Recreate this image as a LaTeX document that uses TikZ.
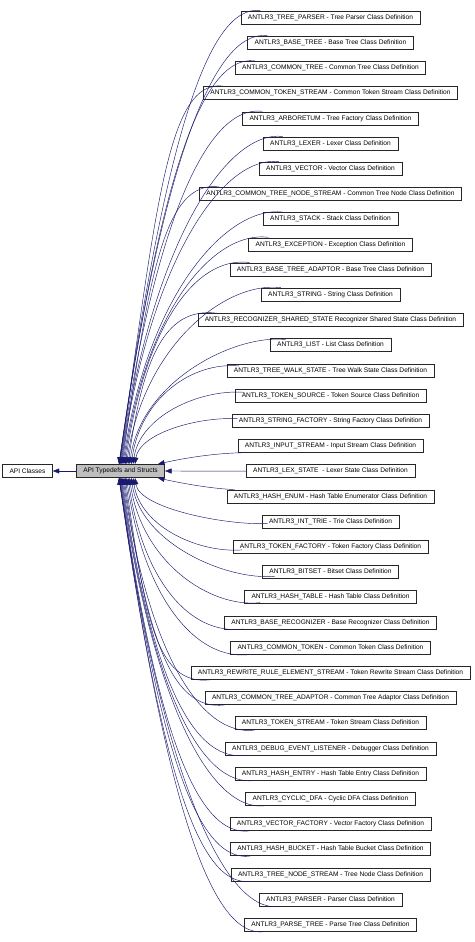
\documentclass[tikz,border=0pt]{standalone}
\usepackage{fontspec}
\setmainfont{Liberation Sans}
\usetikzlibrary{arrows.meta,calc}
\definecolor{navy}{HTML}{191970}
\definecolor{tdgray}{HTML}{BFBFBF}
\tikzset{
  box/.style={draw=black!85, line width=0.55pt, fill=white, inner xsep=7pt, inner ysep=0pt,
    minimum height=13pt, font=\fontsize{6.6}{8}\selectfont},
  edge/.style={draw=navy, line width=0.45pt, arrows={Triangle[length=6.5pt,width=5pt]-}},
  edgeto/.style={draw=navy, line width=0.45pt, arrows={-Triangle[length=6.5pt,width=5pt]}}
}
\begin{document}
\begin{tikzpicture}[x=1pt,y=-1pt]
\fill[white] (0,0) rectangle (474,942);
\useasboundingbox (0,0) rectangle (474,942);
\node[box] (cls) at (27.5,471) {API Classes};
\node[box, fill=tdgray] (td) at (120.5,471) {API Typedefs and Structs};
\foreach \t [count=\k from 0] in {
ANTLR3\_TREE\_PARSER - Tree Parser Class Definition,
ANTLR3\_BASE\_TREE - Base Tree Class Definition,
ANTLR3\_COMMON\_TREE - Common Tree Class Definition,
ANTLR3\_COMMON\_TOKEN\_STREAM - Common Token Stream Class Definition,
ANTLR3\_ARBORETUM - Tree Factory Class Definition,
ANTLR3\_LEXER - Lexer Class Definition,
ANTLR3\_VECTOR - Vector Class Definition,
ANTLR3\_COMMON\_TREE\_NODE\_STREAM - Common Tree Node Class Definition,
ANTLR3\_STACK - Stack Class Definition,
ANTLR3\_EXCEPTION - Exception Class Definition,
ANTLR3\_BASE\_TREE\_ADAPTOR - Base Tree Class Definition,
ANTLR3\_STRING - String Class Definition,
ANTLR3\_RECOGNIZER\_SHARED\_STATE Recognizer Shared State Class Definition,
ANTLR3\_LIST - List Class Definition,
ANTLR3\_TREE\_WALK\_STATE - Tree Walk State Class Definition,
ANTLR3\_TOKEN\_SOURCE - Token Source Class Definition,
ANTLR3\_STRING\_FACTORY - String Factory Class Definition,
ANTLR3\_INPUT\_STREAM - Input Stream Class Definition,
ANTLR3\_LEX\_STATE~ - Lexer State Class Definition,
ANTLR3\_HASH\_ENUM - Hash Table Enumerator Class Definition,
ANTLR3\_INT\_TRIE - Trie Class Definition,
ANTLR3\_TOKEN\_FACTORY - Token Factory Class Definition,
ANTLR3\_BITSET - Bitset Class Definition,
ANTLR3\_HASH\_TABLE - Hash Table Class Definition,
ANTLR3\_BASE\_RECOGNIZER - Base Recognizer Class Definition,
ANTLR3\_COMMON\_TOKEN - Common Token Class Definition,
ANTLR3\_REWRITE\_RULE\_ELEMENT\_STREAM - Token Rewrite Stream Class Definition,
ANTLR3\_COMMON\_TREE\_ADAPTOR - Common Tree Adaptor Class Definition,
ANTLR3\_TOKEN\_STREAM - Token Stream Class Definition,
ANTLR3\_DEBUG\_EVENT\_LISTENER - Debugger Class Definition,
ANTLR3\_HASH\_ENTRY - Hash Table Entry Class Definition,
ANTLR3\_CYCLIC\_DFA - Cyclic DFA Class Definition,
ANTLR3\_VECTOR\_FACTORY - Vector Factory Class Definition,
ANTLR3\_HASH\_BUCKET - Hash Table Bucket Class Definition,
ANTLR3\_TREE\_NODE\_STREAM - Tree Node Class Definition,
ANTLR3\_PARSER - Parser Class Definition,
ANTLR3\_PARSE\_TREE - Parse Tree Class Definition} {
  \node[box] (n\k) at (330.5,{17.5+25.2*\k}) {\t};
}
% edge to API Classes
\draw[edgeto] (td.west) -- (cls.east);
% upper edges
\foreach \i in {0,...,16} {
  \pgfmathsetmacro{\yy}{17.5+25.2*\i}
  \pgfmathsetmacro{\D}{464-\yy}
  \pgfmathsetmacro{\f}{min(1,\D/150)}
  \pgfmathsetmacro{\xe}{119+16*(\i/16)^2}
  \path (n\i.west); \pgfgetlastxy{\Lx}{\Ly}
  \pgfmathsetmacro{\L}{\Lx}
  \draw[edge] (\xe,464) .. controls ({\xe+0.1*\D},{464-0.7*\D}) and ({\L-35},{\yy-14*\f}) .. ({\L+20*\f},{\yy-7*\f});
}
% lower edges
\foreach \i in {20,...,36} {
  \pgfmathsetmacro{\j}{36-\i}
  \pgfmathsetmacro{\yy}{17.5+25.2*\i}
  \pgfmathsetmacro{\D}{\yy-478}
  \pgfmathsetmacro{\f}{min(1,\D/150)}
  \pgfmathsetmacro{\xe}{119+16*(\j/16)^2}
  \path (n\i.west); \pgfgetlastxy{\Lx}{\Ly}
  \pgfmathsetmacro{\L}{\Lx}
  \draw[edge] (\xe,478) .. controls ({\xe+0.1*\D},{478+0.7*\D}) and ({\L-35},{\yy+14*\f}) .. ({\L+20*\f},{\yy+7*\f});
}
% near-centre edges
\coordinate (e17) at ($(n17.south west)+(8,0)$);
\coordinate (e19) at ($(n19.north west)+(8,0)$);
\draw[edge] (158,464) .. controls (185,458) and (215,453) .. (e17);
\draw[edge] (td.east) -- (n18.west);
\draw[edge] (158,478) .. controls (185,484) and (215,489) .. (e19);
\end{tikzpicture}
\end{document}
